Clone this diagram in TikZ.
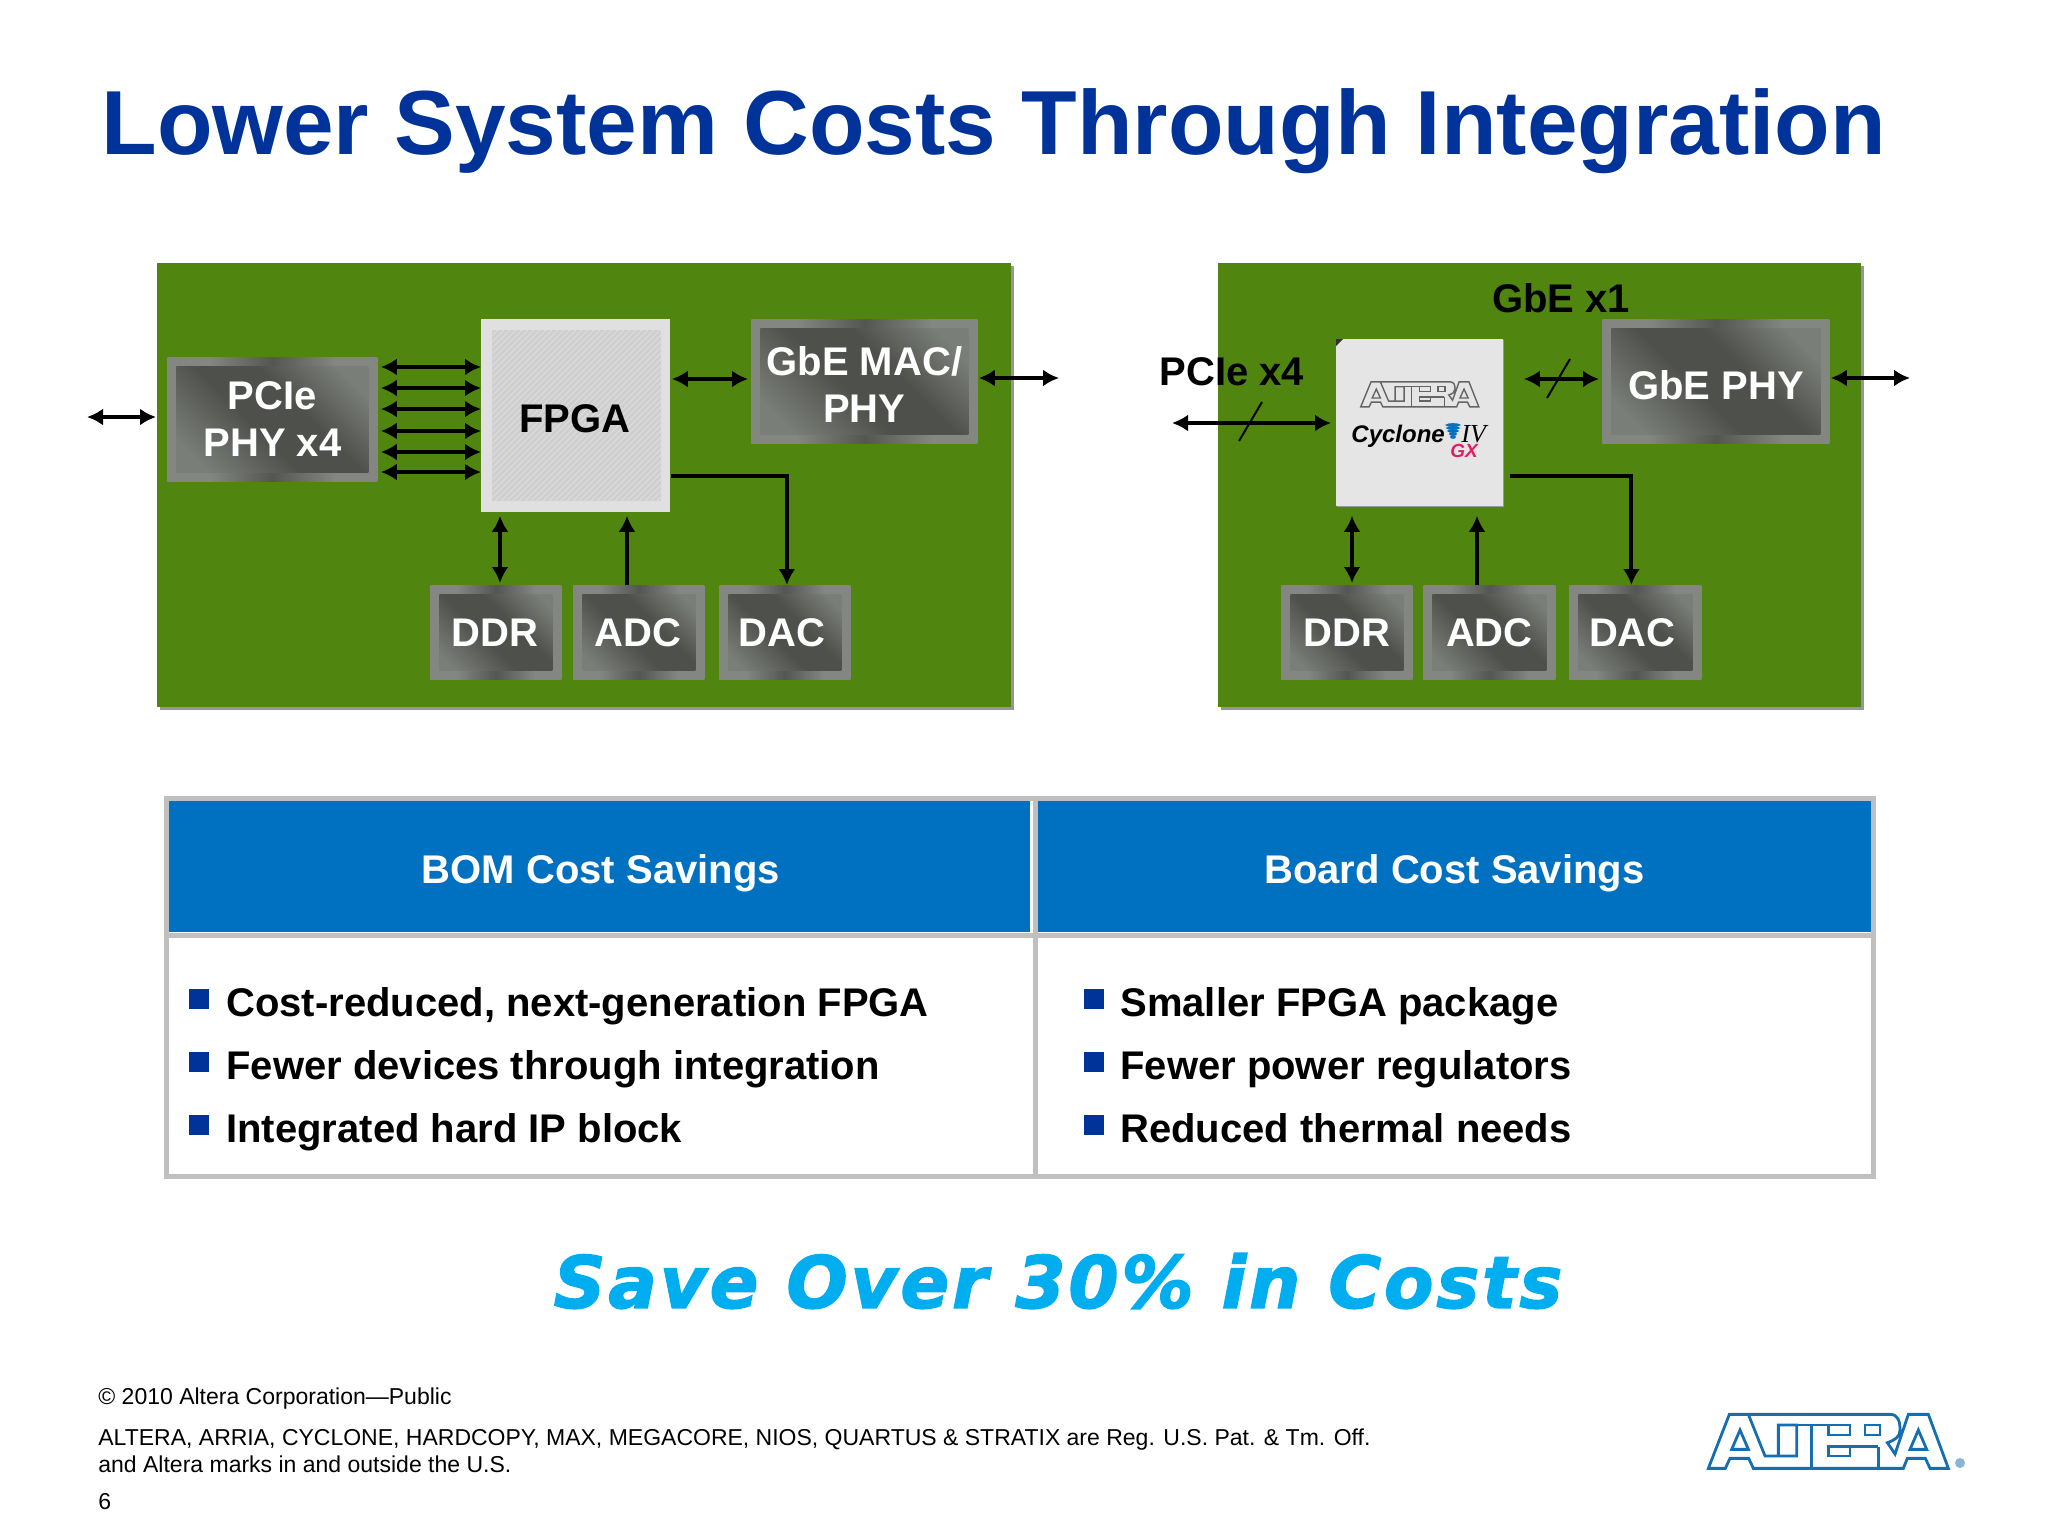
\documentclass[tikz,border=0pt]{standalone}
\usepackage{fontspec}
\setmainfont{Liberation Sans}
\newfontfamily\savefont[LetterSpace=4,BoldItalicFeatures={FakeBold=2}]{DejaVu Sans}
\usetikzlibrary{arrows.meta,patterns}

\definecolor{boardgreen}{RGB}{80,134,15}
\definecolor{boardshadow}{RGB}{150,150,150}
\definecolor{titleblue}{RGB}{0,51,153}
\definecolor{headblue}{RGB}{0,112,192}
\definecolor{tableline}{RGB}{192,192,192}
\definecolor{saveblue}{RGB}{0,174,239}
\definecolor{logoblue}{RGB}{20,110,175}
\definecolor{logogray}{RGB}{100,100,100}
\definecolor{gxred}{RGB}{225,30,100}
\definecolor{panellight}{RGB}{122,126,120}
\definecolor{paneldark}{RGB}{78,80,76}
\definecolor{framelight}{RGB}{132,134,130}
\definecolor{framedark}{RGB}{84,86,82}

\pgfdeclarehorizontalshading{panelshade}{100bp}{color(0bp)=(panellight);
  color(25bp)=(panellight); color(45bp)=(paneldark);
  color(58bp)=(paneldark); color(75bp)=(panellight); color(100bp)=(panellight)}
\pgfdeclarehorizontalshading{frameshade}{100bp}{color(0bp)=(framelight);
  color(35bp)=(framelight); color(50bp)=(framedark);
  color(65bp)=(framelight); color(100bp)=(framelight)}

\newcommand{\boxfont}{\fontsize{20}{23.5}\selectfont\bfseries}
\newcommand{\rowfont}{\fontsize{20}{24}\selectfont\bfseries}
\newcommand{\footfont}{\fontsize{11.5}{14}\selectfont}

\tikzset{
  board/.style={rectangle, fill=boardgreen, inner sep=0pt, anchor=north west},
  chipbox/.style={rectangle, inner sep=0pt, anchor=north west, text=white, font=\boxfont,
    align=center, shading=frameshade,
    path picture={\shade[shading=panelshade, shading angle=45]
      ([xshift=4.5pt,yshift=-4.5pt]path picture bounding box.north west) rectangle
      ([xshift=-4.5pt,yshift=4.5pt]path picture bounding box.south east);}},
  fpgabox/.style={rectangle, inner sep=0pt, anchor=north west, font=\boxfont, align=center,
    fill=black!12,
    path picture={\fill[black!19]
      ([xshift=5.5pt,yshift=-5.5pt]path picture bounding box.north west) rectangle
      ([xshift=-4.5pt,yshift=5.5pt]path picture bounding box.south east);
      \fill[pattern=north east lines, pattern color=black!13]
      ([xshift=5.5pt,yshift=-5.5pt]path picture bounding box.north west) rectangle
      ([xshift=-4.5pt,yshift=5.5pt]path picture bounding box.south east);}},
  link/.style={line width=2pt, >={Latex[length=8pt,width=8.5pt]}},
  slash/.style={line width=1pt},
  headcell/.style={rectangle, fill=headblue, inner sep=0pt, anchor=north west,
    text=white, font=\rowfont},
  rowtext/.style={anchor=base west, inner sep=0pt, font=\rowfont},
  rowmark/.style={rectangle, fill=titleblue, inner sep=0pt, minimum size=10pt},
  footline/.style={anchor=base west, inner sep=0pt, font=\footfont},
  pics/alteralogo/.style={code={
    \begin{scope}[#1, line join=miter]
      \draw (175,265) -- (238,103) -- (720,103) .. controls (745,103) and (750,125) .. (750,150)
        .. controls (750,170) and (735,180) .. (712,188) -- (735,222) -- (775,103) -- (835,103)
        -- (895,265) -- (840,265) -- (826,235) -- (772,235) -- (760,265) -- (310,265)
        -- (296,235) -- (240,235) -- (226,265) -- cycle;
      \draw (245,208) -- (270,150) -- (295,208) -- cycle;
      \draw (780,208) -- (805,150) -- (830,208) -- cycle;
      \draw (295,103) -- (345,228) -- (440,228) -- (440,135) -- (385,135) -- (385,228);
      \draw (440,135) -- (485,135) -- (485,265);
      \draw (535,135) rectangle (600,165);
      \draw (535,200) rectangle (600,228);
      \draw (645,135) rectangle (690,165);
      \draw (685,200) -- (685,265);
      \draw (485,135) -- (535,135);
      \draw (600,200) -- (645,200) -- (685,200);
    \end{scope}
  }}
}

\begin{document}
\begin{tikzpicture}[x=0.5pt, y=-0.5pt]
  \useasboundingbox (0,0) rectangle (2048,1536);

  % Title
  \node[anchor=base west, inner sep=0pt, text=titleblue, font=\fontsize{45.5}{50}\selectfont\bfseries]
    (title) at (101,155) {Lower System Costs Through Integration};

  % Left board
  \fill[boardshadow] (160,266) rectangle (1014,710);
  \node[board, minimum width=427pt, minimum height=222pt] (boardL) at (157,263) {};
  \node[chipbox, minimum width=105pt, minimum height=62pt] (pcie) at (167,357) {PCIe\\PHY x4};
  \node[fpgabox, minimum width=94.5pt, minimum height=96.5pt] (fpga) at (481,319)
    {\raisebox{-1.3pt}[\height][0pt]{FPGA\hspace{1pt}}};
  \node[chipbox, minimum width=113pt, minimum height=62pt] (mac) at (751,319)
    {\rule{0pt}{18pt}GbE MAC/\\PHY};
  \node[chipbox, minimum width=65.5pt, minimum height=47pt] (ddrL) at (430,585) {DDR\hspace{1pt}};
  \node[chipbox, minimum width=65.5pt, minimum height=47pt] (adcL) at (573,585) {ADC\hspace{1pt}};
  \node[chipbox, minimum width=65.5pt, minimum height=47pt] (dacL) at (719,585) {DAC\hspace{3pt}};

  \coordinate (pcieout) at (87,417);
  \coordinate (macout) at (1059,378);
  \draw[link, <->, shorten >=5.5pt] (pcieout) -- (pcieout -| pcie.west);
  \foreach \y in {367,388,409,431,452,472} {
    \draw[link, <->, shorten <=1.5pt] (pcie.east |- 0,\y) -- (fpga.west |- 0,\y);
  }
  \draw[link, <->, shorten <=0.5pt, shorten >=1.5pt] (fpga.east |- 0,379) -- (mac.west |- 0,379);
  \draw[link, <->, shorten <=0.5pt] (mac.east |- macout) -- (macout);
  \draw[link, ->] (fpga.east |- 0,476) -| ([xshift=1pt]dacL.north);
  \draw[link, <->, shorten <=1.5pt, shorten >=1pt] (fpga.south -| 500,0) -- (ddrL.north -| 500,0);
  \draw[link, ->, shorten >=1.5pt] (adcL.north -| 627,0) -- (fpga.south -| 627,0);

  % Right board
  \fill[boardshadow] (1221,266) rectangle (1864,710);
  \node[board, minimum width=321.5pt, minimum height=222pt] (boardR) at (1218,263) {};
  \node[rectangle, fill=black!40, inner sep=0pt, anchor=north west, minimum width=83.5pt,
    minimum height=83.5pt] (chipshadow) at (1337,340) {};
  \node[rectangle, fill=black!10, inner sep=0pt, anchor=north west, minimum width=83.5pt,
    minimum height=83.5pt] (chip) at (1336,339) {};
  \fill[black!80] (chip.north west) -- ++(7,0) -- ++(-7,7) -- cycle;
  \node[chipbox, minimum width=113.5pt, minimum height=62pt] (gbe) at (1602,319)
    {\raisebox{-2pt}[\height][0pt]{GbE PHY}};
  \node[chipbox, minimum width=65.5pt, minimum height=47pt] (ddrR) at (1281,585) {DDR};
  \node[chipbox, minimum width=66pt, minimum height=47pt] (adcR) at (1423,585) {ADC};
  \node[chipbox, minimum width=66pt, minimum height=47pt] (dacR) at (1569,585) {DAC\hspace{3pt}};

  \node[anchor=center, inner sep=0pt, font=\boxfont] (pcielabel) at (1232,372) {PCIe x4};
  \node[anchor=center, inner sep=0pt, font=\boxfont] (gbelabel) at (1561,298) {GbE x1};

  % Chip markings
  \pic (chiplogo) at (1332,366) {alteralogo={logogray, line width=0.7pt, xscale=0.164, yscale=0.154}};
  \node[anchor=base west, inner sep=0pt, font=\fontsize{12}{12}\selectfont\bfseries\itshape]
    (cyclone) at (1351,442) {Cyclone};
  \foreach \y/\w in {425/6,428/5.5,431/4.5,434/3,437/2} {
    \draw[headblue, line width=0.8pt] (1453,\y) ellipse ({\w} and 1);
  }
  \node[anchor=base west, inner sep=0pt, font=\fontsize{13}{13}\selectfont\itshape, text=black]
    (chipiv) at (1461,442) {\fontspec{Liberation Serif}IV};
  \node[anchor=base west, inner sep=0pt, text=gxred, font=\fontsize{9.5}{10}\selectfont\bfseries\itshape]
    (chipgx) at (1450,457) {GX};

  \coordinate (pcie2out) at (1172,423);
  \coordinate (gbe2out) at (1910,378);
  \coordinate (pcieslashA) at (1239,441);
  \coordinate (pcieslashB) at (1262,402);
  \coordinate (gbeslashA) at (1547,398);
  \coordinate (gbeslashB) at (1570,359);
  \draw[link, <->, shorten >=2.5pt] (pcie2out) -- (pcie2out -| chip.west);
  \draw[slash] (pcieslashA) -- (pcieslashB);
  \draw[link, <->, shorten <=10pt, shorten >=1.5pt] (chip.east |- 0,379) -- (gbe.west |- 0,379);
  \draw[slash] (gbeslashA) -- (gbeslashB);
  \draw[link, <->, shorten <=0.5pt] (gbe.east |- gbe2out) -- (gbe2out);
  \draw[link, ->, shorten <=3pt] (chip.east |- 0,476) -| ([xshift=-2pt]dacR.north);
  \draw[link, <->, shorten <=4.5pt, shorten >=1pt] (chip.south -| 1352,0) -- (ddrR.north -| 1352,0);
  \draw[link, ->, shorten >=4.5pt] (adcR.north -| 1477,0) -- (chip.south -| 1477,0);

  % Table
  \node[headcell, minimum width=431pt, minimum height=66pt] (headL) at (168,800)
    {\raisebox{-1.5pt}[\height][0pt]{\hspace{1.5pt}BOM Cost Savings}};
  \node[headcell, minimum width=419pt, minimum height=66pt] (headR) at (1036,800)
    {\raisebox{-1.5pt}[\height][0pt]{Board Cost Savings\hspace{1pt}}};
  \draw[tableline, line width=2.5pt] (166,798) rectangle (1873,1176);
  \draw[tableline, line width=2.5pt] (166,935) -- (1873,935);
  \draw[tableline, line width=2.5pt] (1035,798) -- (1035,1176);

  \foreach \y/\a/\b in {1016/{Cost-reduced, next-generation FPGA}/{Smaller FPGA package},
                        1079/{Fewer devices through integration}/{Fewer power regulators},
                        1142/{Integrated hard IP block}/{Reduced thermal needs}} {
    \node[rowmark] at (199,\y-17) {};
    \node[rowtext] at (226,\y) {\a};
    \node[rowmark] at (1094,\y-17) {};
    \node[rowtext] at (1120,\y) {\b};
  }

  % Slogan
  \node[inner sep=0pt, text=saveblue, font=\fontsize{36}{40}\selectfont\savefont\bfseries\itshape]
    (slogan) at (1058,1281) {Save Over 30\% in Costs};

  % Footer
  \node[footline] (foota) at (98,1404) {© 2010 Altera Corporation—Public};
  \node[footline] (footb) at (98,1445) {ALTERA, ARRIA, CYCLONE, HARDCOPY, MAX, MEGACORE, NIOS, QUARTUS \& STRATIX are Reg. U.S. Pat. \& Tm. Off.};
  \node[footline] (footc) at (98,1472) {and Altera marks in and outside the U.S.};
  \node[footline] (footd) at (98,1509) {6};

  % Logo
  \pic (mainlogo) at (1650,1380) {alteralogo={logoblue, line width=1.4pt, xscale=1/3, yscale=1/3}};
  \node[circle, fill=logoblue!50, inner sep=0pt, minimum size=5pt] (regmark) at (1960,1463) {};
\end{tikzpicture}
\end{document}
